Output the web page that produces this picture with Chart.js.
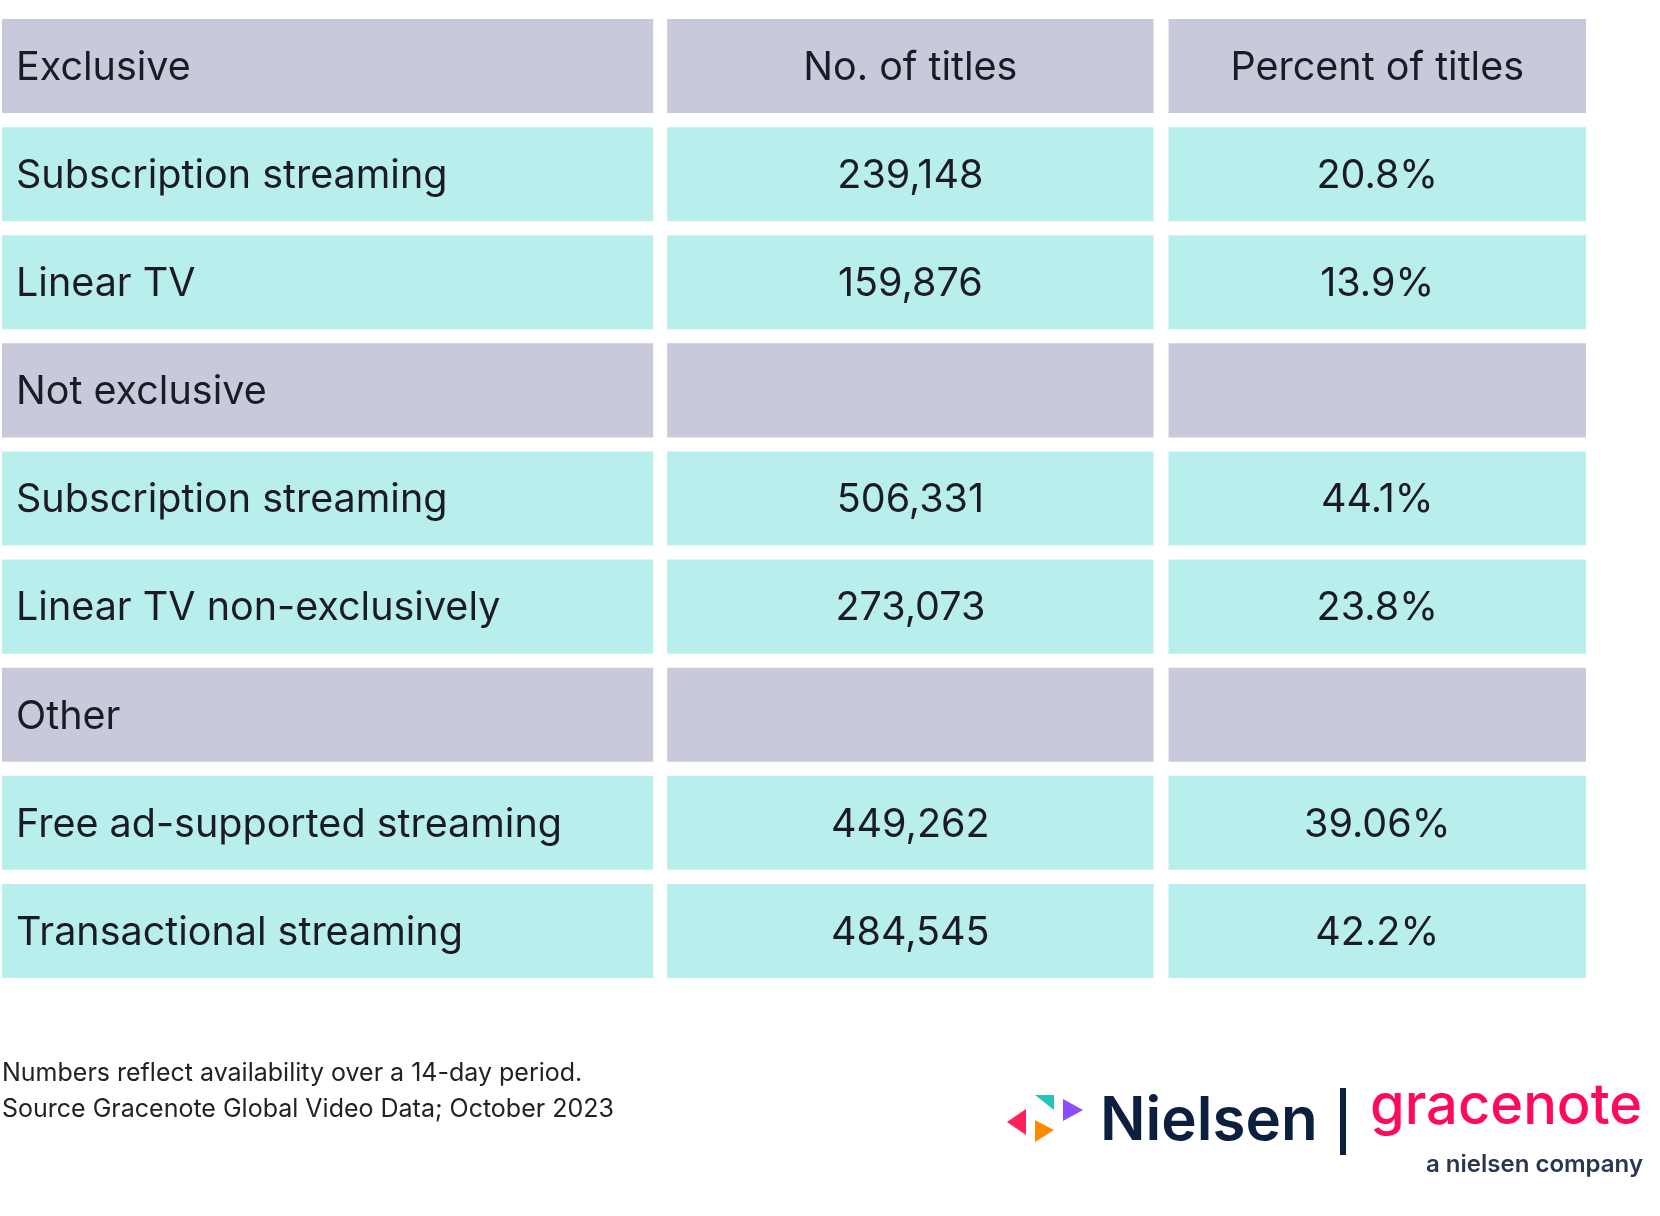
<!DOCTYPE html>
<html><head><meta charset="utf-8">
<script src="https://cdn.jsdelivr.net/npm/chart.js@4"></script>
<style>html,body{margin:0;padding:0;background:#fff}#wrap{width:1660px;height:1216px}</style>
</head><body><div id="wrap"><canvas id="c"></canvas></div>
<script>
const rowLabels = ["Exclusive","Subscription streaming","Linear TV","Not exclusive","Subscription streaming","Linear TV non-exclusively","Other","Free ad-supported streaming","Transactional streaming"];
const isHeader = [true,false,false,true,false,false,true,false,false];
const titles = ["No. of titles","239,148","159,876","","506,331","273,073","","449,262","484,545"];
const percents = ["Percent of titles","20.8%","13.9%","","44.1%","23.8%","","39.06%","42.2%"];
const colEdges = [[0,652],[666,1153],[1168,1586]];
const notes = ["Numbers reflect availability over a 14-day period.","Source Gracenote Global Video Data; October 2023"];

const GRAY='#c8cadb', CYAN='#b8efed', TXT='#1b1b24';
const colors = rowLabels.map((_,i)=>isHeader[i]?GRAY:CYAN);
const datasets = colEdges.map((e,ci)=>({
  data: rowLabels.map(()=>[e[0],e[1]]),
  backgroundColor: colors, borderWidth:0,
  barPercentage:0.87, categoryPercentage:1, grouped:false
}));

const textPlugin = {
  id:'txt',
  afterDatasetsDraw(chart){
    const ctx=chart.ctx, y=chart.scales.y, x=chart.scales.x;
    ctx.save();
    ctx.fillStyle=TXT; ctx.textBaseline='middle';
    ctx.font='39.5px Inter';
    rowLabels.forEach((lab,i)=>{
      const yy=y.getPixelForValue(i)+2;
      ctx.textAlign='left'; ctx.fillText(lab, x.getPixelForValue(colEdges[0][0])+14, yy);
      ctx.textAlign='center';
      ctx.fillText(titles[i], x.getPixelForValue((colEdges[1][0]+colEdges[1][1])/2), yy);
      ctx.fillText(percents[i], x.getPixelForValue((colEdges[2][0]+colEdges[2][1])/2), yy);
    });
    ctx.textBaseline='alphabetic'; ctx.textAlign='left';
    ctx.font='25px Inter'; ctx.fillStyle='#222';
    ctx.fillText(notes[0],2,1081); ctx.fillText(notes[1],2,1117);
    const tri=(pts,c)=>{ctx.fillStyle=c;ctx.beginPath();ctx.moveTo(pts[0],pts[1]);ctx.lineTo(pts[2],pts[3]);ctx.lineTo(pts[4],pts[5]);ctx.closePath();ctx.fill();};
    tri([1007,1122,1026,1109,1026,1135],'#ff1f5a');
    tri([1035,1095,1054,1095,1054,1110],'#25c4b6');
    tri([1035,1142,1035,1120,1054,1130],'#ff8a00');
    tri([1063,1099,1083,1110,1063,1121],'#8a4dff');
    ctx.fillStyle='#0c1f3f'; ctx.font='600 60px Inter';
    ctx.fillText('Nielsen',1100,1140);
    ctx.fillRect(1340,1088,6,67);
    ctx.fillStyle='#ff0a5a'; ctx.font='500 56px Inter';
    ctx.fillText('gracenote',1370,1124);
    ctx.fillStyle='#2a3550'; ctx.font='600 24px Inter'; ctx.textAlign='right';
    ctx.fillText('a nielsen company',1643,1172);
    ctx.restore();
  }
};

new Chart(document.getElementById('c'),{
  type:'bar',
  data:{labels:rowLabels,datasets},
  options:{
    indexAxis:'y', responsive:true, maintainAspectRatio:false, animation:false,
    layout:{padding:{left:2,top:12,right:74,bottom:231}},
    plugins:{legend:{display:false},tooltip:{enabled:false}},
    scales:{
      x:{type:'linear',min:0,max:1586,display:false},
      y:{type:'category',display:false,offset:true}
    }
  },
  plugins:[textPlugin]
});
</script></body></html>
